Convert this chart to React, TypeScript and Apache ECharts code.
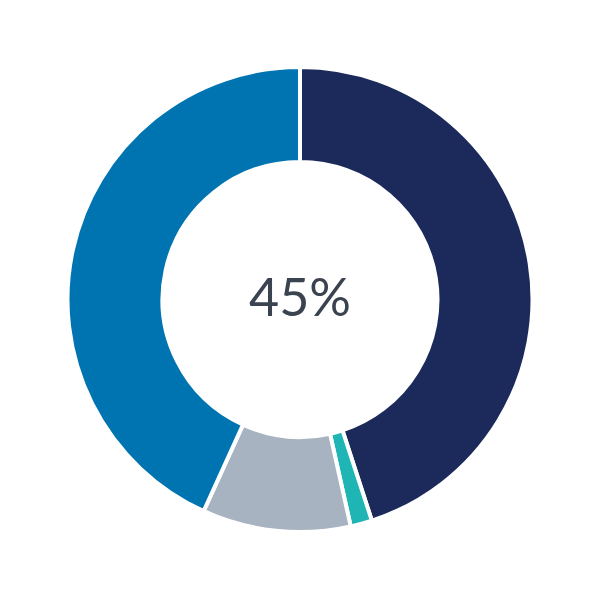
import React, { useEffect, useRef } from "react";
import * as echarts from "echarts";

const categories = ["A", "B", "C", "D"];
const values = [45, 1.5, 10.3, 43.2];
const colors = ["#1b2a5b", "#1fb5b5", "#a8b3c1", "#0074b1"];
const centerLabel = "45%";

export default function App() {
  const ref = useRef<HTMLDivElement>(null);
  useEffect(() => {
    document.body.style.margin = "0";
    const chart = echarts.init(ref.current!, null, { renderer: "svg" });
    chart.setOption({
      animation: false,
      graphic: [
        {
          type: "text",
          left: "center",
          top: 270,
          style: {
            text: centerLabel,
            font: '400 52px Lato, "Noto Sans", sans-serif',
            fill: "#3b4350",
          },
        },
      ],
      series: [
        {
          type: "pie",
          center: [300, 299.5],
          radius: [137.5, 232.5],
          startAngle: 90,
          clockwise: true,
          label: { show: false },
          labelLine: { show: false },
          emphasis: { disabled: true },
          itemStyle: { borderColor: "#ffffff", borderWidth: 4 },
          data: categories.map((c, i) => ({
            name: c,
            value: values[i],
            itemStyle: { color: colors[i] },
          })),
        },
      ],
    });
    return () => chart.dispose();
  }, []);
  return <div ref={ref} style={{ width: 600, height: 599 }} />;
}
